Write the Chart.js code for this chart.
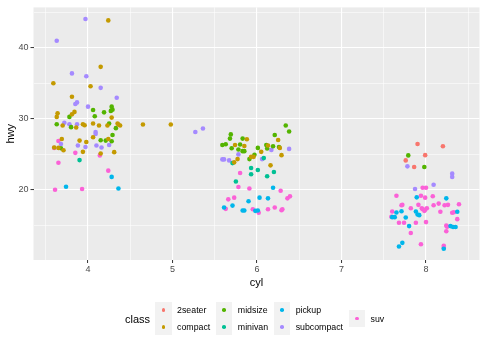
<!DOCTYPE html>
<html>
<head>
<meta charset="utf-8">
<script src="https://cdn.jsdelivr.net/npm/chart.js@4"></script>
<style>
  html, body { margin: 0; padding: 0; background: #fff; }
  #wrap { position: relative; width: 485px; height: 346px; font-family: "Liberation Sans", Arial, sans-serif; }
  #legend { position: absolute; left: 125px; top: 302px; display: flex; align-items: center; }
  .lg-title { font-size: 11px; color: #000; margin-right: 5px; }
  .lg-col { display: flex; flex-direction: column; margin-right: 5.5px; }
  .lg-item { display: flex; align-items: center; height: 16.5px; }
  .lg-key { width: 16.5px; height: 16.5px; background: #F2F2F2; position: relative; }
  .lg-key span { position: absolute; left: 50%; top: 50%; width: 3.6px; height: 3.6px; margin: -1.8px 0 0 -1.8px; border-radius: 50%; }
  .lg-label { font-size: 8.8px; color: #000; margin-left: 5.5px; }
</style>
</head>
<body>
<div id="wrap">
  <canvas id="chart" width="485" height="346"></canvas>
  <div id="legend"></div>
</div>
<script>
// classes and ggplot hue colours
const classes = ["2seater", "compact", "midsize", "minivan", "pickup", "subcompact", "suv"];
const classColors = ["#F8766D", "#C49A00", "#53B400", "#00C094", "#00B6EB", "#A58AFF", "#FB61D7"];

// axis ticks (major get labels, minor only grid)
const xGrid = [3.5, 4, 4.5, 5, 5.5, 6, 6.5, 7, 7.5, 8, 8.5];
const xLabels = [4, 5, 6, 7, 8];
const yGrid = [15, 20, 25, 30, 35, 40, 45];
const yLabels = [20, 30, 40];

// jittered points (cyl, hwy)
const twoseaterCyl = [7.90, 8.20, 7.99, 7.76, 7.86];
const twoseaterHwy = [26.45, 26.13, 24.88, 24.14, 23.21];

const compactCyl = [4.24, 4.15, 3.59, 4.03, 3.81, 3.84, 3.64, 3.81, 3.63, 4.28, 3.70, 3.94, 3.96, 4.06, 4.13, 3.86,
  4.23, 4.35, 4.38, 4.36, 4.06, 3.69, 3.90, 3.98, 4.24, 3.60, 3.65, 3.71, 3.94, 4.15, 4.31,
  4.65, 4.98,
  5.88, 6.25, 5.74, 5.85, 6.13, 6.27, 6.05, 5.93, 5.96, 6.29, 5.77, 5.73, 6.16];
const compactHwy = [43.87, 37.32, 35.01, 34.59, 33.10, 30.97, 30.77, 30.63, 30.27, 30.17, 29.06, 29.24, 29.10, 29.34, 29.06, 28.78,
  29.06, 29.34, 29.06, 29.20, 27.39, 27.15, 26.93, 26.73, 27.15, 25.95, 25.90, 25.57, 25.34, 25.11, 25.30,
  29.20, 29.20,
  27.11, 27.01, 26.31, 26.17, 26.23, 25.90, 25.34, 24.64, 24.64, 24.88, 24.32, 23.86, 23.44];

const midsizeCyl = [4.28, 4.29, 4.06, 4.27, 4.19, 3.78, 4.08, 3.63, 3.80, 4.25, 4.33, 4.29, 4.15, 4.21, 4.28, 3.68,
  6.34, 6.38, 5.69, 5.68, 5.83, 6.21, 5.59, 5.63, 5.80, 5.70, 5.78, 5.83, 5.85, 6.11, 6.19, 6.26, 6.01, 6.12, 5.97, 5.91,
  7.79, 7.98];
const midsizeHwy = [31.71, 31.29, 31.25, 31.11, 30.91, 30.27, 30.36, 29.24, 28.82, 29.34, 28.68, 27.71, 26.97, 26.93, 26.83, 25.85,
  29.06, 28.22, 27.80, 27.21, 27.21, 27.71, 26.31, 26.41, 26.37, 25.85, 25.67, 25.44, 25.44, 26.31, 26.13, 26.03, 25.90, 25.81, 24.92, 24.32,
  24.84, 23.21];

const minivanCyl = [3.90, 6.08, 5.71, 5.93, 6.01, 5.93, 6.20, 6.12, 5.75];
const minivanHwy = [24.18, 24.46, 23.76, 23.07, 22.79, 22.19, 22.51, 21.91, 21.16];

const pickupCyl = [4.28, 3.74, 4.36,
  6.19, 5.90, 6.03, 6.13, 5.61, 5.71, 5.83, 5.85, 5.98, 6.01,
  7.89, 8.24, 7.65, 7.71, 7.88, 7.90, 7.92, 8.37, 7.60, 7.63, 7.76, 7.80, 8.29, 8.32, 8.35, 7.72, 7.68, 8.21];
const pickupHwy = [21.81, 20.42, 20.18,
  20.28, 18.37, 18.89, 18.79, 17.49, 17.77, 17.07, 17.07, 17.03, 17.07,
  18.93, 18.79, 16.79, 16.98, 16.93, 16.52, 16.42, 16.89, 16.14, 16.14, 16.10, 14.88, 14.88, 14.75, 14.75, 12.52, 12.01, 11.68];

const subcompactCyl = [3.97, 3.63, 3.81, 3.98, 4.15, 4.34, 3.87, 3.85, 4.00, 3.72, 3.78, 3.87, 4.09, 4.09, 3.68, 3.88, 3.97, 4.10, 4.16, 4.25,
  5.27, 5.36,
  6.17, 6.38, 5.78, 5.59, 5.61, 5.67, 6.06,
  7.78, 8.31, 8.31, 8.09, 7.87];
const subcompactHwy = [44.07, 41.00, 36.40, 35.99, 34.36, 32.96, 32.31, 32.08, 31.71, 29.44, 29.24, 29.24, 28.13, 27.87, 26.45, 26.23, 26.03, 26.23, 25.95, 26.31,
  28.13, 28.64,
  25.62, 25.76, 24.98, 24.28, 24.28, 24.14, 24.32,
  23.30, 22.27, 21.81, 20.70, 20.10];

const suvCyl = [3.65, 3.60, 3.85, 4.14, 3.65, 4.24, 3.61, 3.93,
  5.80, 5.78, 5.91, 6.28, 6.39, 6.36, 5.66, 5.73, 5.63, 5.95, 6.02, 6.13, 6.21, 6.29, 6.30,
  7.96, 8.00, 7.65, 7.94, 7.99, 8.08, 7.71, 7.72, 7.91, 8.09, 8.15, 8.22, 8.26, 8.39, 7.82, 7.95, 7.96, 8.01, 7.60,
  7.98, 7.99, 8.17, 8.31, 8.33, 7.59, 8.37, 7.68, 7.74, 7.88, 8.00, 8.25, 8.24, 8.24, 7.82, 7.94, 8.21, 8.21];
const suvHwy = [26.87, 25.90, 25.20, 24.84, 23.80, 22.69, 20.00, 20.10,
  22.37, 20.38, 20.18, 19.86, 19.07, 18.79, 18.65, 18.89, 17.31, 17.25, 16.75, 17.25, 17.49, 17.11, 17.25,
  20.28, 20.28, 19.16, 19.16, 18.89, 19.09, 17.81, 17.87, 17.87, 17.81, 18.05, 17.81, 17.87, 17.95, 17.39, 17.39, 17.25, 17.39, 16.93,
  17.03, 17.17, 16.89, 16.75, 16.84, 16.20, 15.86, 15.36, 15.36, 15.36, 15.44, 14.80, 14.94, 14.15, 13.91, 12.33, 12.10, 11.82];

const cylSeries = [twoseaterCyl, compactCyl, midsizeCyl, minivanCyl, pickupCyl, subcompactCyl, suvCyl];
const hwySeries = [twoseaterHwy, compactHwy, midsizeHwy, minivanHwy, pickupHwy, subcompactHwy, suvHwy];

const FONT = "'Liberation Sans', Arial, sans-serif";

const datasets = classes.map((name, i) => ({
  label: name,
  data: cylSeries[i].map((c, j) => ({ x: c, y: hwySeries[i][j] })),
  backgroundColor: classColors[i],
  borderWidth: 0,
  pointRadius: 2.3
}));

// grey ggplot panel
const panelBg = {
  id: "panelBg",
  beforeDraw(chart) {
    const { ctx, chartArea: a } = chart;
    ctx.save();
    ctx.fillStyle = "#EBEBEB";
    ctx.fillRect(a.left, a.top, a.right - a.left, a.bottom - a.top);
    ctx.restore();
  }
};

new Chart(document.getElementById("chart"), {
  type: "scatter",
  data: { datasets },
  plugins: [panelBg],
  options: {
    responsive: false,
    animation: false,
    layout: { padding: { top: 5, right: 5.5, bottom: 54, left: 0 } },
    plugins: { legend: { display: false }, tooltip: { enabled: false } },
    scales: {
      x: {
        type: "linear",
        min: 3.355,
        max: 8.633,
        afterBuildTicks: s => { s.ticks = xGrid.map(v => ({ value: v })); },
        afterFit: s => { s.height = 32; },
        border: { display: false },
        grid: {
          color: "#FFFFFF",
          lineWidth: c => xLabels.includes(c.tick && c.tick.value) ? 1.1 : 0.55,
          tickLength: 3,
          tickWidth: 1,
          tickColor: c => xLabels.includes(c.tick && c.tick.value) ? "#333333" : "rgba(0,0,0,0)"
        },
        ticks: {
          autoSkip: false,
          maxRotation: 0,
          padding: 1,
          color: "#4D4D4D",
          font: { family: FONT, size: 9 },
          callback: v => xLabels.includes(v) ? String(v) : ""
        },
        title: { display: true, text: "cyl", color: "#000", font: { family: FONT, size: 11 }, padding: { top: 0, bottom: 2.5 } }
      },
      y: {
        type: "linear",
        min: 10.1,
        max: 45.7,
        afterBuildTicks: s => { s.ticks = yGrid.map(v => ({ value: v })); },
        afterFit: s => { s.width = 33.5; },
        border: { display: false },
        grid: {
          color: "#FFFFFF",
          lineWidth: c => yLabels.includes(c.tick && c.tick.value) ? 1.1 : 0.55,
          tickLength: 3,
          tickWidth: 1,
          tickColor: c => yLabels.includes(c.tick && c.tick.value) ? "#333333" : "rgba(0,0,0,0)"
        },
        ticks: {
          autoSkip: false,
          padding: 2,
          color: "#4D4D4D",
          font: { family: FONT, size: 9 },
          callback: v => yLabels.includes(v) ? String(v) : ""
        },
        title: { display: true, text: "hwy", color: "#000", font: { family: FONT, size: 11 }, padding: { top: 4.5, bottom: 0 } }
      }
    }
  }
});

// ggplot style legend below the panel, filled column by column (2 rows)
function buildLegend() {
  const box = document.getElementById("legend");
  let html = `<div class="lg-title">class</div>`;
  for (let c = 0; c < classes.length; c += 2) {
    html += `<div class="lg-col">`;
    for (let r = c; r < Math.min(c + 2, classes.length); r++) {
      html += `<div class="lg-item"><div class="lg-key"><span style="background:${classColors[r]}"></span></div>` +
        `<div class="lg-label">${classes[r]}</div></div>`;
    }
    html += `</div>`;
  }
  box.innerHTML = html;
}
buildLegend();
</script>
</body>
</html>
